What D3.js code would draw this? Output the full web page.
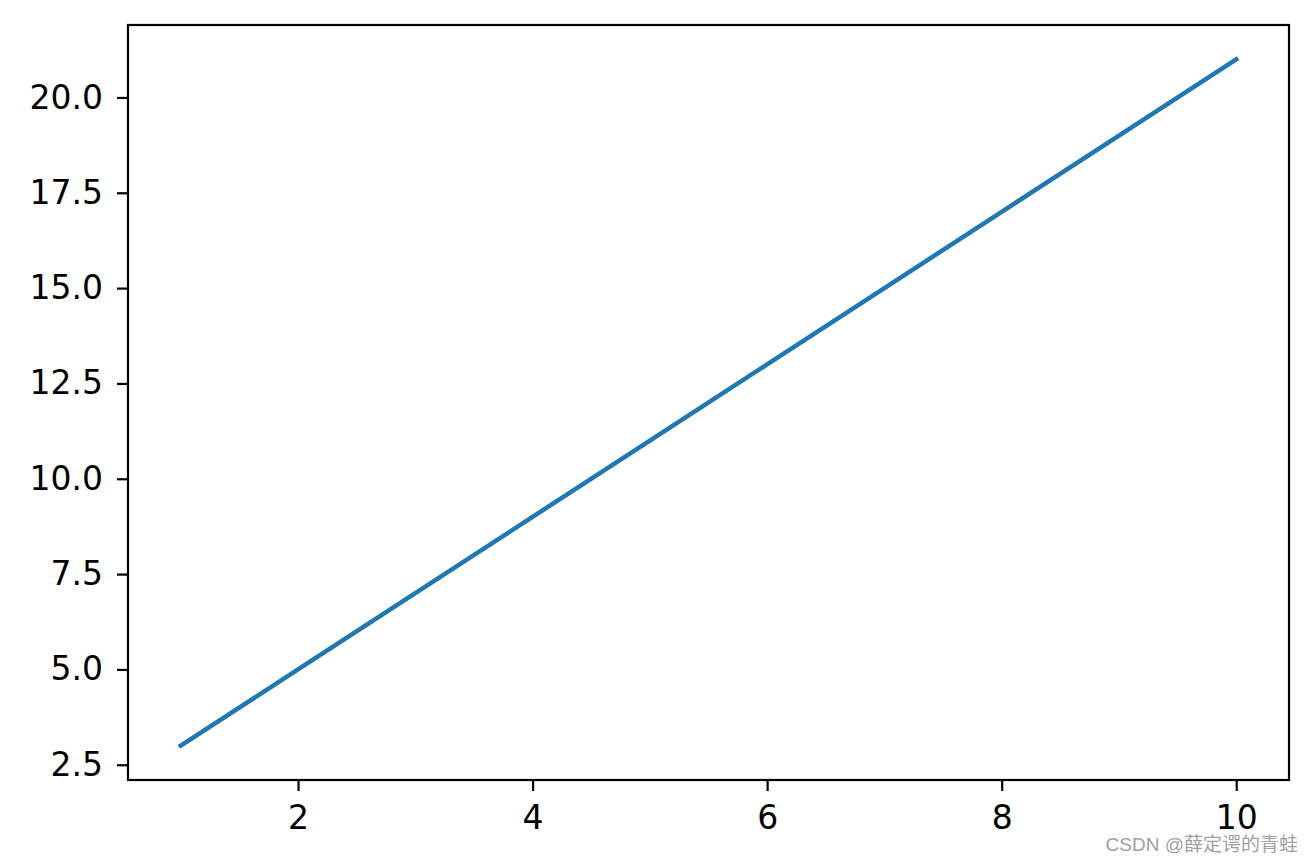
<!DOCTYPE html>
<html>
<head>
<meta charset="utf-8">
<script src="https://cdn.jsdelivr.net/npm/d3@7"></script>
<style>
  body { margin: 0; background: #fff; }
  svg { display: block; }
</style>
</head>
<body>
<div id="chart"></div>
<script>
// data
var xValues = [1, 2, 3, 4, 5, 6, 7, 8, 9, 10];
var yValues = [3, 5, 7, 9, 11, 13, 15, 17, 19, 21];
var xTicks = [2, 4, 6, 8, 10];
var yTicks = [2.5, 5, 7.5, 10, 12.5, 15, 17.5, 20];
var watermark = "CSDN @薛定谔的青蛙";

var svgWidth = 1314;
var svgHeight = 863;

// plot frame
var margin = { top: 25, right: 25, bottom: 83, left: 128 };
var width = svgWidth - margin.left - margin.right;
var height = svgHeight - margin.top - margin.bottom;

var svg = d3.select("#chart")
  .append("svg")
  .attr("width", svgWidth)
  .attr("height", svgHeight);

var chartGroup = svg.append("g")
  .attr("transform", `translate(${margin.left}, ${margin.top})`);

// matplotlib style 5% padding
var xPad = (d3.max(xValues) - d3.min(xValues)) * 0.05;
var yPad = (d3.max(yValues) - d3.min(yValues)) * 0.05;

var xScale = d3.scaleLinear()
  .domain([d3.min(xValues) - xPad, d3.max(xValues) + xPad])
  .range([0, width]);

var yScale = d3.scaleLinear()
  .domain([d3.min(yValues) - yPad, d3.max(yValues) + yPad])
  .range([height, 0]);

var font = "'DejaVu Sans', sans-serif";

var bottomAxis = d3.axisBottom(xScale)
  .tickValues(xTicks)
  .tickFormat(d3.format("d"))
  .tickSize(11)
  .tickPadding(15);

var leftAxis = d3.axisLeft(yScale)
  .tickValues(yTicks)
  .tickFormat(d3.format(".1f"))
  .tickSize(11)
  .tickPadding(14);

var xAxis = chartGroup.append("g")
  .attr("transform", `translate(0, ${height})`)
  .call(bottomAxis);

var yAxis = chartGroup.append("g")
  .call(leftAxis);

[xAxis, yAxis].forEach(function(ax) {
  ax.select(".domain").remove();
  ax.selectAll(".tick line").attr("stroke", "#000").attr("stroke-width", 2.2);
  ax.selectAll(".tick text")
    .attr("fill", "#000")
    .style("font-family", font)
    .style("font-size", "33px");
});

// the line
var line = d3.line()
  .x(d => xScale(d[0]))
  .y(d => yScale(d[1]));

chartGroup.append("path")
  .datum(d3.zip(xValues, yValues))
  .attr("d", line)
  .attr("fill", "none")
  .attr("stroke", "#1f77b4")
  .attr("stroke-width", 4.5)
  .attr("stroke-linecap", "square");

// frame on top
chartGroup.append("rect")
  .attr("x", 0)
  .attr("y", 0)
  .attr("width", width)
  .attr("height", height)
  .attr("fill", "none")
  .attr("stroke", "#000")
  .attr("stroke-width", 2.2);

// watermark
svg.append("text")
  .attr("x", 1298)
  .attr("y", 851)
  .attr("text-anchor", "end")
  .attr("fill", "#a0a0a0")
  .style("font-family", "'Liberation Sans', 'Noto Sans CJK SC', sans-serif")
  .style("font-size", "19px")
  .text(watermark);
</script>
</body>
</html>
